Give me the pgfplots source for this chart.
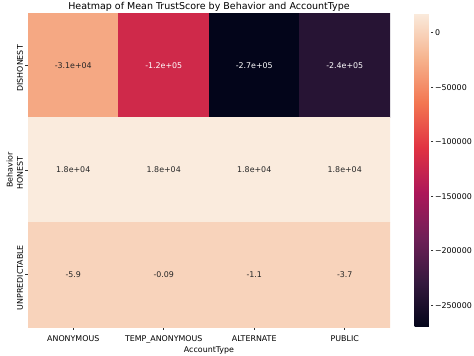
\documentclass[border=0pt]{standalone}
\usepackage{pgfplots}
\pgfplotsset{compat=1.18}
\usepackage{fontspec}
\setmainfont{DejaVu Sans}
\pgfplotsset{colormap={rocket}{rgb255=(3,5,26) rgb255=(53,25,62) rgb255=(112,31,87) rgb255=(173,23,89) rgb255=(225,51,66) rgb255=(243,118,81) rgb255=(246,180,143) rgb255=(250,235,221)}}
\begin{document}
\begin{tikzpicture}
\path[use as bounding box] (-28pt,-29pt) rectangle (446pt,327pt);
\begin{axis}[
 scale only axis, width=362pt, height=314pt,
 at={(0,0)}, anchor=south west,
 xmin=-0.5, xmax=3.5, ymin=-0.5, ymax=2.5, y dir=reverse,
 axis line style={draw=none},
 xtick={0,1,2,3}, xticklabels={ANONYMOUS,TEMP\_ANONYMOUS,ALTERNATE,PUBLIC},
 ytick={0,1,2}, yticklabels={DISHONEST,HONEST,UNPREDICTABLE},
 yticklabel style={rotate=90, anchor=south, inner sep=2pt, xshift=-3pt},
 xticklabel style={inner sep=2pt, yshift=-4pt},
 tick align=outside, major tick length=2.8pt, tick style={black!80, line width=0.6pt},
 xtick pos=bottom, ytick pos=left,
 font=\fontsize{7.9}{9.5}\selectfont,
 every axis title shift=0pt,
 title={Heatmap of Mean TrustScore by Behavior and AccountType},
 title style={font=\fontsize{9.5}{11}\selectfont, at={(0.5,1)}, anchor=south, yshift=1.5pt, inner sep=0pt},
 xlabel={AccountType}, ylabel={Behavior},
 xlabel style={inner sep=0pt, yshift=-1pt},
 ylabel style={inner sep=0pt, yshift=2pt},
 colormap name=rocket,
 point meta min=-270000, point meta max=18000,
 colorbar,
 colorbar style={
   at={(parent axis.north east)}, anchor=north west, xshift=16pt,
   width=16pt,
   axis line style={draw=none},
   scaled y ticks=false,
   ytick={-250000,-200000,-150000,-100000,-50000,0},
   yticklabels={−250000,−200000,−150000,−100000,−50000,0},
   ytick pos=right, tick align=outside, major tick length=2.8pt,
   tick style={black!80, line width=0.6pt},
   yticklabel style={font=\fontsize{7.9}{9.5}\selectfont, inner sep=1.5pt},
 },
]
\addplot[matrix plot*, mesh/cols=4, mesh/rows=3, point meta=explicit] table[meta=c] {
x y c
0 0 -31000
1 0 -120000
2 0 -270000
3 0 -240000
0 1 18000
1 1 18000
2 1 18000
3 1 18000
0 2 -5.9
1 2 -0.09
2 2 -1.1
3 2 -3.7
};
\addplot[only marks, mark=none, nodes near coords, point meta=explicit symbolic,
  every node near coord/.append style={anchor=center, text=black!85, font=\fontsize{7.9}{9.5}\selectfont}] table[meta=label] {
x y label
0 0 -3.1e+04
0 1 1.8e+04
1 1 1.8e+04
2 1 1.8e+04
3 1 1.8e+04
0 2 -5.9
1 2 -0.09
2 2 -1.1
3 2 -3.7
};
\addplot[only marks, mark=none, nodes near coords, point meta=explicit symbolic,
  every node near coord/.append style={anchor=center, text=white, font=\fontsize{7.9}{9.5}\selectfont}] table[meta=label] {
x y label
1 0 -1.2e+05
2 0 -2.7e+05
3 0 -2.4e+05
};
\end{axis}
\end{tikzpicture}
\end{document}
